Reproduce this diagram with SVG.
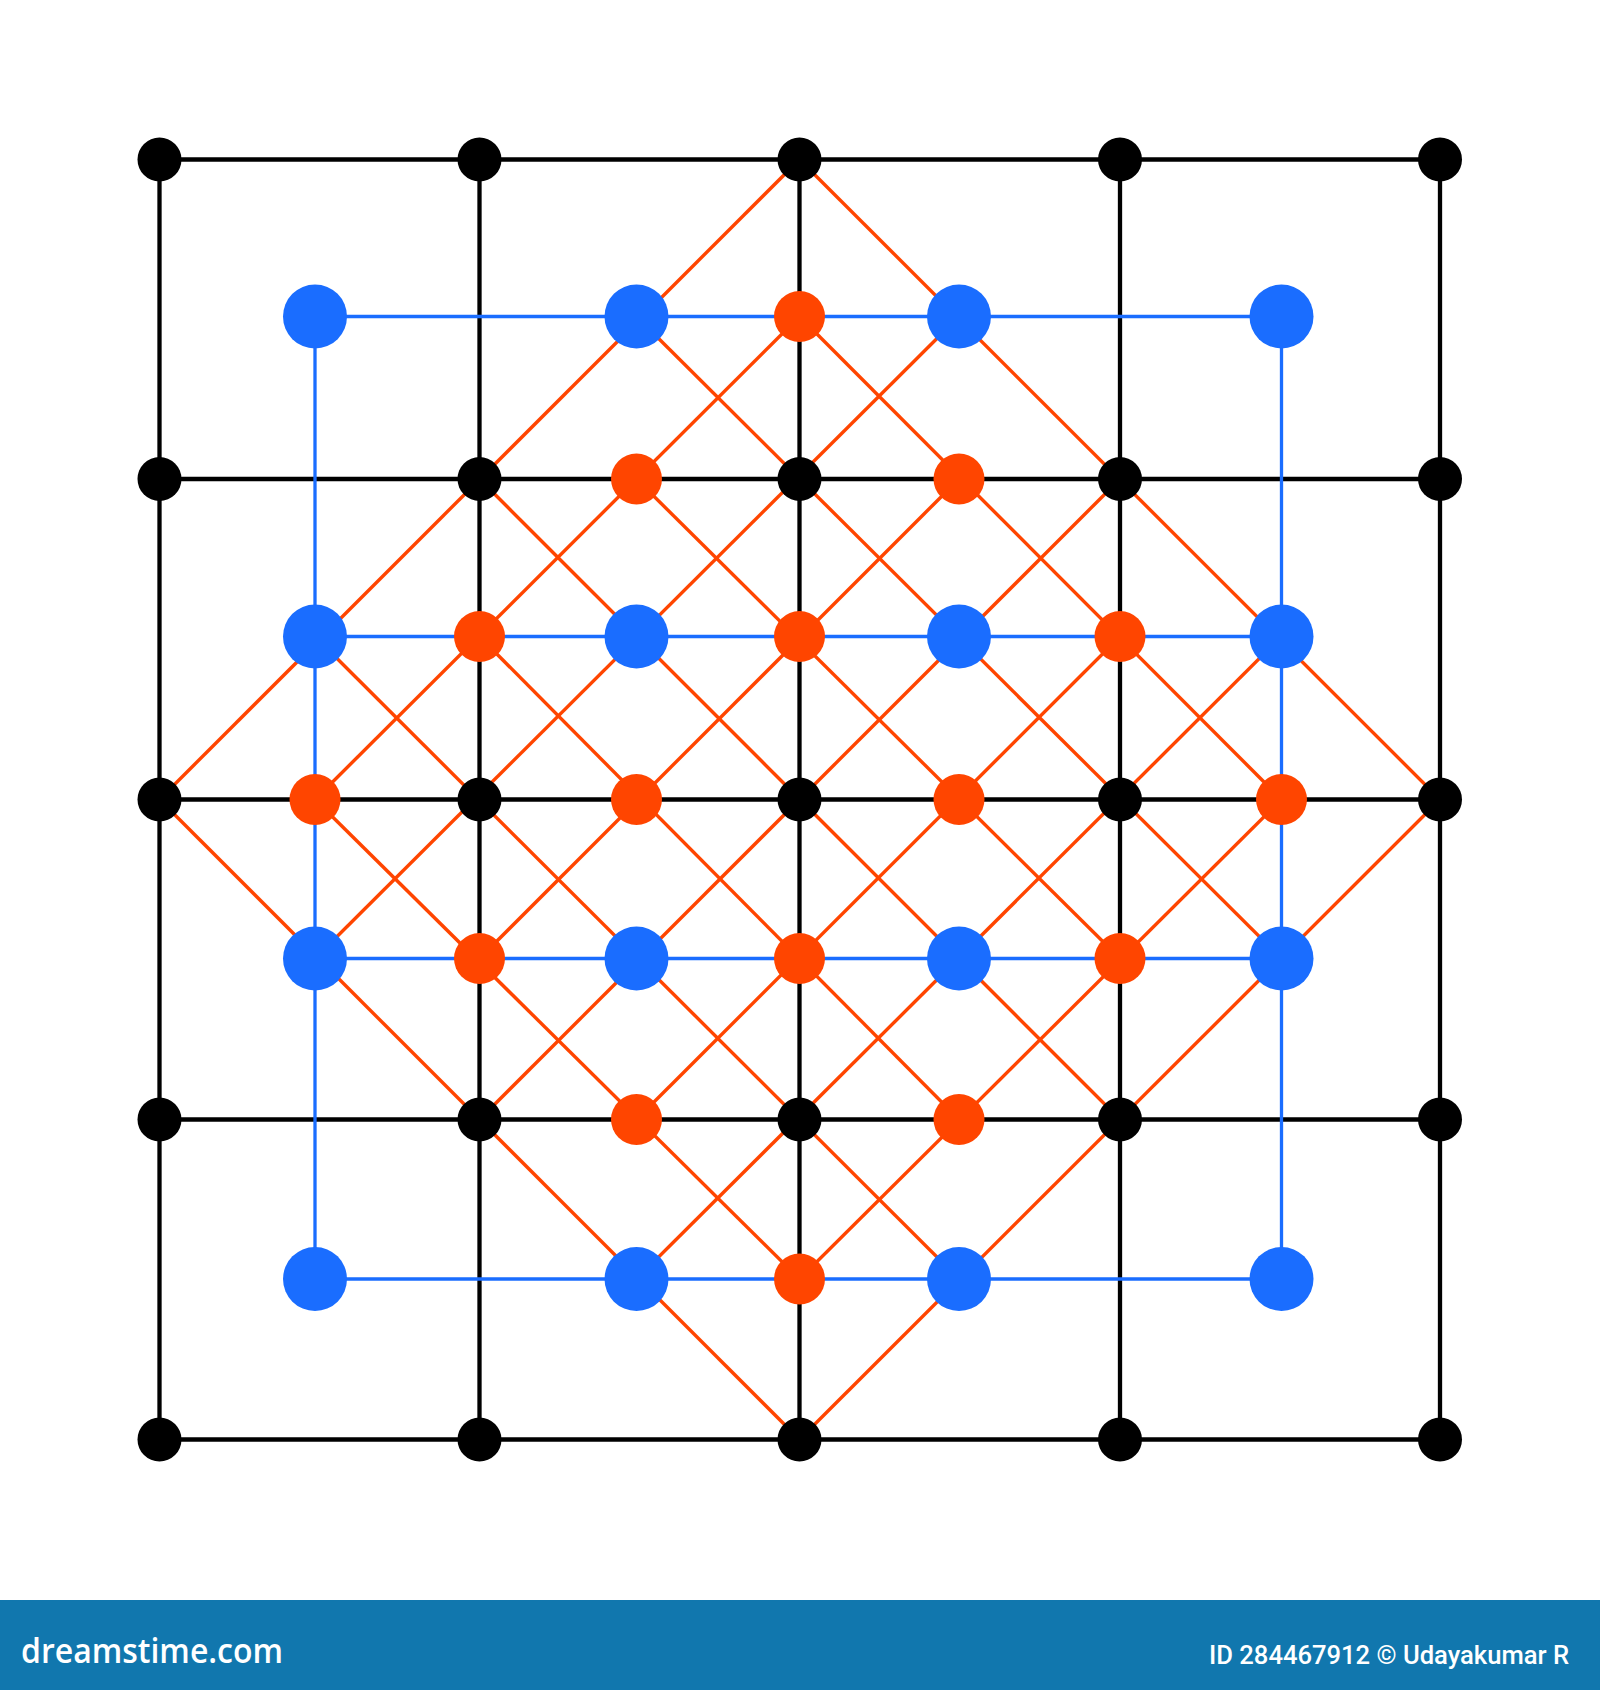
<svg xmlns="http://www.w3.org/2000/svg" width="1600" height="1690" viewBox="0 0 1600 1690">
<style>
.bk{stroke:#000;stroke-width:4.3;fill:none}
.bl{stroke:#1a6dff;stroke-width:3.3;fill:none}
.or{stroke:#ff4500;stroke-width:3.4;fill:none}
.nb{fill:#000}
.nu{fill:#1a6dff}
.no{fill:#ff4500}
</style>
<rect width="1600" height="1690" fill="#fff"/>
<g id="connectors">
<g id="black-grid" class="bk">
<line x1="159.5" y1="159.5" x2="159.5" y2="1439.5"/>
<line x1="479.5" y1="159.5" x2="479.5" y2="1439.5"/>
<line x1="799.5" y1="159.5" x2="799.5" y2="1439.5"/>
<line x1="1120" y1="159.5" x2="1120" y2="1439.5"/>
<line x1="1440" y1="159.5" x2="1440" y2="1439.5"/>
<line x1="159.5" y1="159.5" x2="1440" y2="159.5"/>
<line x1="159.5" y1="479" x2="1440" y2="479"/>
<line x1="159.5" y1="799.5" x2="1440" y2="799.5"/>
<line x1="159.5" y1="1119.5" x2="1440" y2="1119.5"/>
<line x1="159.5" y1="1439.5" x2="1440" y2="1439.5"/>
</g>
<g id="blue-lines" class="bl">
<line x1="315" y1="316.5" x2="1281.5" y2="316.5"/>
<line x1="315" y1="636.5" x2="1281.5" y2="636.5"/>
<line x1="315" y1="958.5" x2="1281.5" y2="958.5"/>
<line x1="315" y1="1279" x2="1281.5" y2="1279"/>
<line x1="315" y1="316.5" x2="315" y2="1279"/>
<line x1="1281.5" y1="316.5" x2="1281.5" y2="1279"/>
</g>
<g id="orange-lines" class="or">
<line x1="799.5" y1="159.5" x2="159.5" y2="799.5"/>
<line x1="799.5" y1="316.5" x2="315" y2="799.5"/>
<line x1="959" y1="316.5" x2="315" y2="958.5"/>
<line x1="959" y1="479" x2="479.5" y2="958.5"/>
<line x1="1120" y1="479" x2="479.5" y2="1119.5"/>
<line x1="1120" y1="636.5" x2="636.5" y2="1119.5"/>
<line x1="1281.5" y1="636.5" x2="636.5" y2="1279"/>
<line x1="1281.5" y1="799.5" x2="799.5" y2="1279"/>
<line x1="1440" y1="799.5" x2="799.5" y2="1439.5"/>
<line x1="799.5" y1="159.5" x2="1440" y2="799.5"/>
<line x1="799.5" y1="316.5" x2="1281.5" y2="799.5"/>
<line x1="636.5" y1="316.5" x2="1281.5" y2="958.5"/>
<line x1="636.5" y1="479" x2="1120" y2="958.5"/>
<line x1="479.5" y1="479" x2="1120" y2="1119.5"/>
<line x1="479.5" y1="636.5" x2="959" y2="1119.5"/>
<line x1="315" y1="636.5" x2="959" y2="1279"/>
<line x1="315" y1="799.5" x2="799.5" y2="1279"/>
<line x1="159.5" y1="799.5" x2="799.5" y2="1439.5"/>
</g>
</g>
<g id="black-nodes">
<g id="k00"><circle class="nb" cx="159.5" cy="159.5" r="22"/></g>
<g id="k20"><circle class="nb" cx="479.5" cy="159.5" r="22"/></g>
<g id="k40"><circle class="nb" cx="799.5" cy="159.5" r="22"/></g>
<g id="k60"><circle class="nb" cx="1120" cy="159.5" r="22"/></g>
<g id="k80"><circle class="nb" cx="1440" cy="159.5" r="22"/></g>
<g id="k02"><circle class="nb" cx="159.5" cy="479" r="22"/></g>
<g id="k22"><circle class="nb" cx="479.5" cy="479" r="22"/></g>
<g id="k42"><circle class="nb" cx="799.5" cy="479" r="22"/></g>
<g id="k62"><circle class="nb" cx="1120" cy="479" r="22"/></g>
<g id="k82"><circle class="nb" cx="1440" cy="479" r="22"/></g>
<g id="k04"><circle class="nb" cx="159.5" cy="799.5" r="22"/></g>
<g id="k24"><circle class="nb" cx="479.5" cy="799.5" r="22"/></g>
<g id="k44"><circle class="nb" cx="799.5" cy="799.5" r="22"/></g>
<g id="k64"><circle class="nb" cx="1120" cy="799.5" r="22"/></g>
<g id="k84"><circle class="nb" cx="1440" cy="799.5" r="22"/></g>
<g id="k06"><circle class="nb" cx="159.5" cy="1119.5" r="22"/></g>
<g id="k26"><circle class="nb" cx="479.5" cy="1119.5" r="22"/></g>
<g id="k46"><circle class="nb" cx="799.5" cy="1119.5" r="22"/></g>
<g id="k66"><circle class="nb" cx="1120" cy="1119.5" r="22"/></g>
<g id="k86"><circle class="nb" cx="1440" cy="1119.5" r="22"/></g>
<g id="k08"><circle class="nb" cx="159.5" cy="1439.5" r="22"/></g>
<g id="k28"><circle class="nb" cx="479.5" cy="1439.5" r="22"/></g>
<g id="k48"><circle class="nb" cx="799.5" cy="1439.5" r="22"/></g>
<g id="k68"><circle class="nb" cx="1120" cy="1439.5" r="22"/></g>
<g id="k88"><circle class="nb" cx="1440" cy="1439.5" r="22"/></g>
</g>
<g id="blue-nodes">
<g id="b11"><circle class="nu" cx="315" cy="316.5" r="32"/></g>
<g id="b31"><circle class="nu" cx="636.5" cy="316.5" r="32"/></g>
<g id="b51"><circle class="nu" cx="959" cy="316.5" r="32"/></g>
<g id="b71"><circle class="nu" cx="1281.5" cy="316.5" r="32"/></g>
<g id="b13"><circle class="nu" cx="315" cy="636.5" r="32"/></g>
<g id="b33"><circle class="nu" cx="636.5" cy="636.5" r="32"/></g>
<g id="b53"><circle class="nu" cx="959" cy="636.5" r="32"/></g>
<g id="b73"><circle class="nu" cx="1281.5" cy="636.5" r="32"/></g>
<g id="b15"><circle class="nu" cx="315" cy="958.5" r="32"/></g>
<g id="b35"><circle class="nu" cx="636.5" cy="958.5" r="32"/></g>
<g id="b55"><circle class="nu" cx="959" cy="958.5" r="32"/></g>
<g id="b75"><circle class="nu" cx="1281.5" cy="958.5" r="32"/></g>
<g id="b17"><circle class="nu" cx="315" cy="1279" r="32"/></g>
<g id="b37"><circle class="nu" cx="636.5" cy="1279" r="32"/></g>
<g id="b57"><circle class="nu" cx="959" cy="1279" r="32"/></g>
<g id="b77"><circle class="nu" cx="1281.5" cy="1279" r="32"/></g>
</g>
<g id="orange-nodes">
<g id="o41"><circle class="no" cx="799.5" cy="316.5" r="25.5"/></g>
<g id="o32"><circle class="no" cx="636.5" cy="479" r="25.5"/></g>
<g id="o52"><circle class="no" cx="959" cy="479" r="25.5"/></g>
<g id="o23"><circle class="no" cx="479.5" cy="636.5" r="25.5"/></g>
<g id="o43"><circle class="no" cx="799.5" cy="636.5" r="25.5"/></g>
<g id="o63"><circle class="no" cx="1120" cy="636.5" r="25.5"/></g>
<g id="o14"><circle class="no" cx="315" cy="799.5" r="25.5"/></g>
<g id="o34"><circle class="no" cx="636.5" cy="799.5" r="25.5"/></g>
<g id="o54"><circle class="no" cx="959" cy="799.5" r="25.5"/></g>
<g id="o74"><circle class="no" cx="1281.5" cy="799.5" r="25.5"/></g>
<g id="o25"><circle class="no" cx="479.5" cy="958.5" r="25.5"/></g>
<g id="o45"><circle class="no" cx="799.5" cy="958.5" r="25.5"/></g>
<g id="o65"><circle class="no" cx="1120" cy="958.5" r="25.5"/></g>
<g id="o36"><circle class="no" cx="636.5" cy="1119.5" r="25.5"/></g>
<g id="o56"><circle class="no" cx="959" cy="1119.5" r="25.5"/></g>
<g id="o47"><circle class="no" cx="799.5" cy="1279" r="25.5"/></g>
</g>
<g id="footer">
<rect x="0" y="1600" width="1600" height="90" fill="#1177ae"/>
<text x="21" y="1663" font-family="'Open Sans','DejaVu Sans',sans-serif" font-weight="600" font-size="35" fill="#fff" textLength="262" lengthAdjust="spacingAndGlyphs">dreamstime.com</text>
<text x="1209" y="1664" font-family="Roboto,'Liberation Sans',sans-serif" font-weight="500" font-size="25" fill="#fff" textLength="360" lengthAdjust="spacingAndGlyphs">ID 284467912 © Udayakumar R</text>
</g>
</svg>
